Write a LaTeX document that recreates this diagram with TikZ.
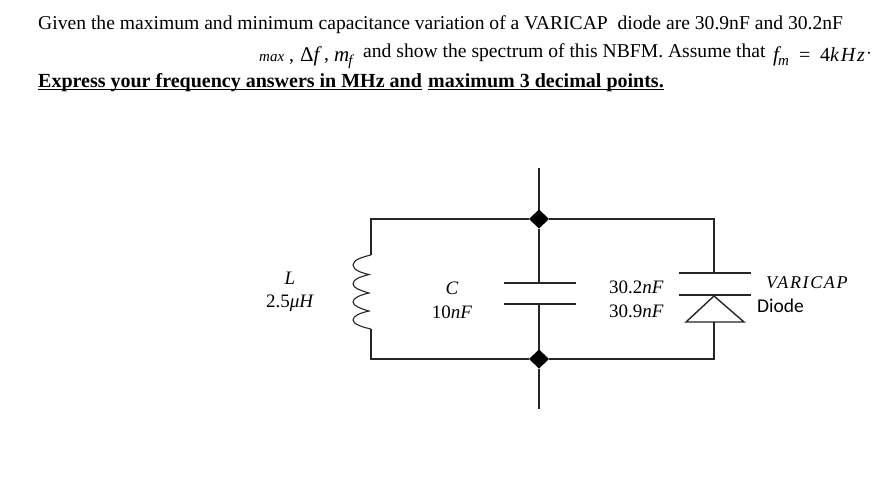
\documentclass[tikz,border=0pt]{standalone}
\usepackage{fontspec}
\setmainfont{Liberation Serif}
\newfontfamily\lblfont{Carlito}
\newfontfamily\mathlbl[LetterSpace=9]{Liberation Serif}
\usetikzlibrary{shapes.geometric}
\tikzset{
  wire/.style={line width=1.7pt,draw=black!85},
  plate/.style={line width=1.4pt,draw=black!85},
  junction/.style={diamond,fill=black,inner sep=0pt,outer sep=0pt,minimum width=20pt,minimum height=19pt},
  txt/.style={anchor=base west,inner sep=0pt,font=\fontsize{19.6}{21}\selectfont},
  boldtxt/.style={anchor=base west,inner sep=0pt,font=\fontsize{20}{22}\selectfont\bfseries},
  mathtxt/.style={anchor=base west,inner sep=0pt,font=\fontsize{21}{23}\selectfont\itshape},
  lbl/.style={anchor=base,inner sep=0pt,font=\fontsize{19}{21}\selectfont},
}
\newcommand{\subtxt}[1]{\raisebox{-3pt}{\fontsize{15}{16}\selectfont\itshape #1}}
\begin{document}
\begin{tikzpicture}[x=1pt,y=-1pt]
\useasboundingbox[fill=white] (0,0) rectangle (877,487);
% question text
\node[txt] (t1) at (38,30) {Given the maximum and minimum capacitance variation of a VARICAP\ \ diode are 30.9nF and 30.2nF};
\node[txt,font=\fontsize{15}{16}\selectfont\itshape] (t2a) at (259,62) {max};
\node[txt] (t2a2) at (289,62) {,};
\node[mathtxt] (t2b) at (300,62) {{\upshape Δ}f};
\node[txt] (t2b2) at (324,60) {,};
\node[mathtxt] (t2b3) at (334,62) {m\kern-1pt\subtxt{f}};
\node[txt] (t2c) at (363,57) {and show the spectrum of this NBFM. Assume that};
\node[mathtxt] (t2d) at (773,62) {f\kern-1pt\subtxt{m}};
\node[mathtxt,font=\fontsize{20}{22}\selectfont] (t2e) at (799,62) {=};
\node[mathtxt,font=\fontsize{20}{22}\selectfont\mathlbl] (t2f) at (820,62) {4\textit{kHz}};
\node[txt] (t2g) at (866,59) {$\cdot$};
\node[boldtxt] (t3) at (38,87) {Express your frequency answers in MHz and};
\node[boldtxt] (t4) at (428,87) {maximum 3 decimal points.};
% underlines
\coordinate (u1a) at (38,89.5); \coordinate (u1b) at (422,89.5);
\coordinate (u2a) at (428,89.5); \coordinate (u2b) at (664,89.5);
\draw[line width=1.3pt] (u1a) -- (u1b);
\draw[line width=1.3pt] (u2a) -- (u2b);
% circuit
\node[junction] (jt) at (539,219) {};
\node[junction] (jb) at (539,359) {};
\coordinate (top) at (539,168);
\coordinate (bot) at (539,409);
\coordinate (ca) at (539,283);
\coordinate (cb) at (539,304);
\coordinate (ltop) at (371,219);
\coordinate (lbot) at (371,359);
\coordinate (ia) at (371,255);
\coordinate (ib) at (371,329);
\coordinate (rtop) at (714,219);
\coordinate (rbot) at (714,359);
\coordinate (va) at (714,273);
\coordinate (vb) at (714,322);
\coordinate (apex) at (714,296);
\coordinate (dl) at (686,322);
\coordinate (dr) at (744,322);
\draw[wire] (top) -- (jt) -- (ca);
\draw[wire] (cb) -- (jb) -- (bot);
\draw[wire] (jt) -- (ltop) -- (ia);
\draw[wire] (ib) -- (lbot) -- (jb);
\draw[wire] (jt) -- (rtop) -- (va);
\draw[wire] (vb) -- (rbot) -- (jb);
\draw[plate] (504,283) -- (ca) -- (576,283);
\draw[plate] (504,304) -- (cb) -- (576,304);
\draw[plate] (679,273) -- (va) -- (751,273);
\draw[plate] (679,295) -- (751,295);
\draw[plate] (apex) -- (dl) -- (dr) -- cycle;
% inductor
\draw[line width=1.1pt,draw=black!85] (ia)
  .. controls (362,257) and (353,260) .. (353,265)
  .. controls (353,270) and (362,273) .. (369,274.5)
  .. controls (360,277) and (353,279) .. (353,284)
  .. controls (353,288) and (362,291) .. (369,293)
  .. controls (360,295) and (353,298) .. (353,302)
  .. controls (353,306) and (362,309) .. (369,311)
  .. controls (360,313) and (353,316) .. (353,320)
  .. controls (353,324) and (362,327) .. (ib);
% labels
\node[lbl] (l1) at (290,284) {\textit{L}};
\node[lbl] (l2) at (290,307) {2.5\textit{μH}};
\node[lbl] (c1) at (452,294) {\textit{C}};
\node[lbl] (c2) at (452,318) {10\textit{nF}};
\node[lbl,anchor=base west] (v1) at (609,293) {30.2\textit{nF}};
\node[lbl,anchor=base west] (v2) at (609,317) {30.9\textit{nF}};
\node[lbl,anchor=base west,font=\fontsize{18}{20}\selectfont\mathlbl] (v3) at (766,288) {\textit{VARICAP}};
\node[lbl,anchor=base west,font=\lblfont\fontsize{19.5}{21}\selectfont] (v4) at (757,312) {Diode};
\end{tikzpicture}
\end{document}
